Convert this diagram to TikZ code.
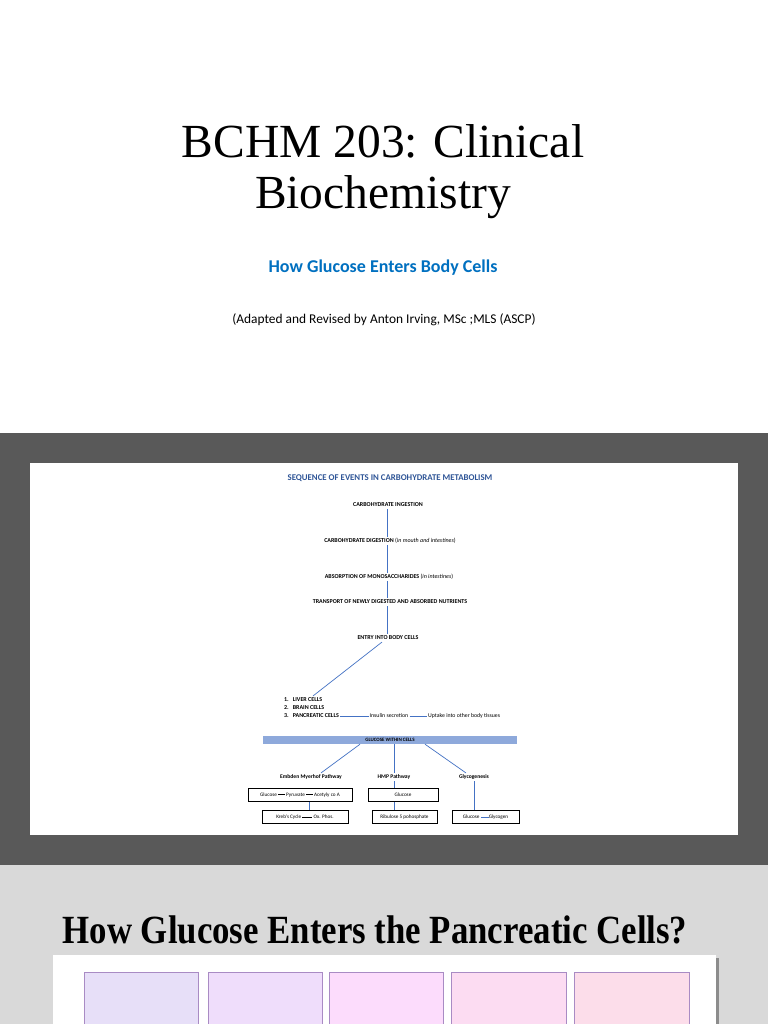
\documentclass[tikz,border=0pt]{standalone}
\usepackage{fontspec}
\setmainfont{Carlito}
\newfontfamily\titlefont{Liberation Serif}
\usetikzlibrary{positioning,calc}

\definecolor{slidegray}{HTML}{595959}
\definecolor{bandgray}{HTML}{D9D9D9}
\definecolor{titleblue}{HTML}{0070C0}
\definecolor{seqblue}{HTML}{2F5597}
\definecolor{linkblue}{HTML}{4472C4}
\definecolor{barblue}{HTML}{8EA9DB}
\definecolor{swatchedge}{HTML}{A98BC4}

\begin{document}
\begin{tikzpicture}[
    x=1pt, y=-1pt,
    step label/.style={font=\fontsize{6}{7}\selectfont\bfseries, inner sep=1pt, text height=4.3pt, text depth=1.4pt},
    path label/.style={font=\fontsize{5.6}{7}\selectfont\bfseries, inner sep=1pt, text height=4.3pt, text depth=1.4pt},
    plain label/.style={font=\fontsize{5.8}{7}\selectfont, inner sep=1pt, text height=4.3pt, text depth=1.4pt},
    link/.style={draw=linkblue, line width=0.7pt},
    pbox/.style={draw, line width=0.6pt, minimum height=13pt, inner sep=1pt, font=\fontsize{5.2}{6}\selectfont},
    swatch/.style={draw=swatchedge, line width=0.5pt}
]
\useasboundingbox (0,0) rectangle (768,1024);

% Fondo de las tres bandas
\fill[white] (0,0) rectangle (768,433);
\fill[slidegray] (0,433) rectangle (768,865);
\fill[white] (30,463) rectangle (738,835);
\fill[bandgray] (0,865) rectangle (768,1024);
\fill[black!45] (56,958) rectangle (719,1024);
\fill[white] (53,955) rectangle (716,1024);

% Portada
\node[font=\titlefont\fontsize{47.5}{52}\selectfont, anchor=base] (title1) at (383,158) {BCHM 203: Clinical};
\node[font=\titlefont\fontsize{47.5}{52}\selectfont, anchor=base] (title2) at (383,209) {Biochemistry};
\node[font=\fontsize{18}{20}\selectfont\bfseries, text=titleblue] (subtitle) at (383,268) {How Glucose Enters Body Cells};
\node[font=\fontsize{13.4}{15}\selectfont] (credit) at (384,320) {(Adapted and Revised by Anton Irving, MSc ;MLS (ASCP)};

% Secuencia vertical
\node[font=\fontsize{8.8}{10}\selectfont\bfseries, text=seqblue] (seq) at (390,478) {SEQUENCE OF EVENTS IN CARBOHYDRATE METABOLISM};
\node[step label] (ingest) at (388,505) {CARBOHYDRATE INGESTION};
\node[step label] (digest) at (390,541) {CARBOHYDRATE DIGESTION \textnormal{(\textit{in mouth and intestines})}};
\node[step label] (absorb) at (389,577) {ABSORPTION OF MONOSACCHARIDES \textnormal{(\textit{in intestines})}};
\node[step label] (transport) at (390,602) {TRANSPORT OF NEWLY DIGESTED AND ABSORBED NUTRIENTS};
\node[step label] (entry) at (388,638) {ENTRY INTO BODY CELLS};

\draw[link] ([xshift=-1pt]ingest.south) -- ([xshift=-1pt]ingest.south |- digest.north);
\draw[link] ([xshift=-3pt]digest.south) -- ([xshift=-3pt]digest.south |- absorb.north);
\draw[link] ([xshift=-2pt]absorb.south) -- ([xshift=-2pt]absorb.south |- transport.north);
\draw[link] ([xshift=-3pt]transport.south) -- ([xshift=-3pt]transport.south |- entry.north);

% Tipos de celulas
\node[step label, anchor=west] (liver) at (283,700) {1.\hspace{4pt}LIVER CELLS};
\node[step label, anchor=west] (brain) at (283,708) {2.\hspace{4pt}BRAIN CELLS};
\node[step label, anchor=west] (pancreas) at (283,716) {3.\hspace{4pt}PANCREATIC CELLS};
\node[plain label] (insulin) at (389,716) {Insulin secretion};
\node[plain label, anchor=west] (uptake) at (427,716) {Uptake into other body tissues};

\draw[link] ([xshift=-6pt]entry.south) -- ([xshift=30pt]liver.north west);
\draw[link] (pancreas.east) -- (insulin.west);
\draw[link] (insulin.east) -- (uptake.west);

% Glucosa dentro de las celulas
\node[fill=barblue, minimum width=254pt, minimum height=8pt, inner sep=0pt,
      font=\fontsize{5}{6}\selectfont\bfseries] (within) at (390,740) {GLUCOSE WITHIN CELLS};

\node[path label] (emp) at (311,777) {Embden Myerhof Pathway};
\node[path label] (hmp) at (394,777) {HMP Pathway};
\node[path label] (glyco) at (474,777) {Glycogenesis};

\draw[link] ([xshift=-30pt]within.south) -- ([xshift=10pt]emp.north);
\draw[link] (within.south -| hmp) -- (hmp.north);
\draw[link] ([xshift=35pt]within.south) -- ([xshift=-8pt]glyco.north);

% Cajas de cada via
\node[pbox, minimum width=104pt] (emprow) at (300,795)
    {Glucose \rule[1.6pt]{7pt}{0.7pt} Pyruvate \rule[1.6pt]{7pt}{0.7pt} Acetyly co A};
\node[pbox, minimum width=70pt] (hmpbox) at (403,795) {Glucose};
\node[pbox, minimum width=86pt] (kreb) at (305,817)
    {Kreb's Cycle \rule[1.2pt]{10pt}{0.7pt} Ox. Phos.};
\node[pbox, minimum width=65pt] (ribulose) at (404.5,817) {Ribulose 5 pohosphate};
\node[pbox, minimum width=67pt] (glycogen) at (485.5,817)
    {Glucose \textcolor{linkblue}{\rule[1.2pt]{8pt}{0.6pt}}Glycogen};

\draw[link] ([xshift=9pt]emprow.south) -- ([xshift=9pt]emprow.south |- kreb.north);
\draw[link] (hmp.south) -- (hmp.south |- hmpbox.north);
\draw[link] (hmpbox.south -| hmp) -- (hmp |- ribulose.north);
\draw[link] (glyco.south) -- (glyco.south |- glycogen.north);

% Siguiente diapositiva
\node[font=\titlefont\fontsize{40}{44}\selectfont\bfseries, xscale=0.87, transform shape] (pancreatic) at (375,930)
    {How Glucose Enters the Pancreatic Cells?};

\foreach \xa/\xb/\tint in {84/198/E7DFF8, 208/322/EFDDFB, 329/443/FCDCFC, 451/566/FCDCF2, 574/689/FCDDEA} {
    \definecolor{swatchfill}{HTML}{\tint}
    \fill[swatchfill] (\xa,972) rectangle (\xb,1024);
    \draw[swatch] (\xa,1024) -- (\xa,972) -- (\xb,972) -- (\xb,1024);
}

\end{tikzpicture}
\end{document}
